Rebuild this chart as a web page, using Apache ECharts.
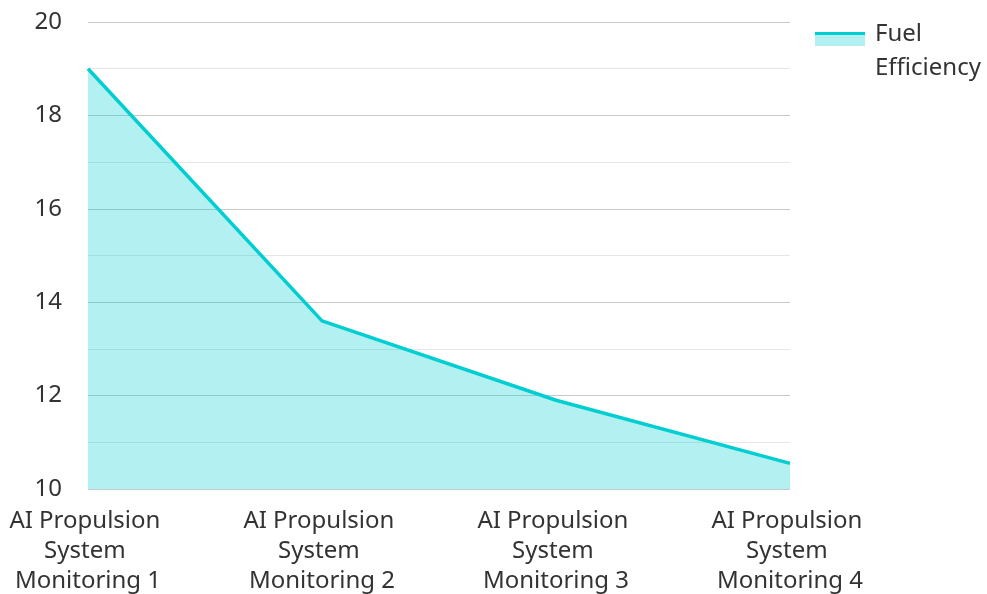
<!DOCTYPE html>
<html>
<head>
<meta charset="utf-8">
<script src="https://cdn.jsdelivr.net/npm/echarts@6/dist/echarts.min.js"></script>
<style>
  html, body { margin: 0; padding: 0; background: #fff; }
  #chart { width: 987px; height: 594px; }
</style>
</head>
<body>
<div id="chart"></div>
<script>
// data
var categories = ['AI Propulsion System Monitoring 1', 'AI Propulsion System Monitoring 2',
  'AI Propulsion System Monitoring 3', 'AI Propulsion System Monitoring 4'];
var fuelEfficiency = [19, 13.6, 11.9, 10.55];
var seriesName = 'Fuel Efficiency';
var yMin = 10, yMax = 20, yStep = 2;

var myChart = echarts.init(document.getElementById('chart'));
var font = '"Noto Sans", "Open Sans", sans-serif';
var lineColor = '#00CED1';
var areaColor = 'rgba(0,206,209,0.3)';
// legend swatch: teal stroke over light fill, sitting beside the first text line
var legendIcon = new echarts.graphic.LinearGradient(0, 0, 0, 1, [
  { offset: 0, color: 'rgba(0,0,0,0)' },
  { offset: 0.22, color: 'rgba(0,0,0,0)' },
  { offset: 0.22, color: lineColor },
  { offset: 0.265, color: lineColor },
  { offset: 0.265, color: areaColor },
  { offset: 0.43, color: areaColor },
  { offset: 0.43, color: 'rgba(0,0,0,0)' },
  { offset: 1, color: 'rgba(0,0,0,0)' }
]);
var option = {
  textStyle: { fontFamily: font },
  legend: {
    data: [{ name: seriesName, icon: 'rect', itemStyle: { color: legendIcon } }],
    right: -3,
    top: 12,
    itemWidth: 50,
    itemHeight: 68,
    textStyle: { fontSize: 24, color: '#333', fontFamily: font, width: 110, overflow: 'break', lineHeight: 34, padding: [0, 0, 0, 5] }
  },
  grid: { left: 88, right: 197, top: 22, bottom: 105, outerBoundsMode: 'none', containLabel: false },
  xAxis: {
    type: 'category',
    data: categories,
    boundaryGap: false,
    axisLine: { show: false },
    axisTick: { show: false },
    axisLabel: {
      fontSize: 24, color: '#333', fontFamily: font,
      width: 170, overflow: 'break', lineHeight: 30, margin: 17, interval: 0
    }
  },
  yAxis: {
    type: 'value',
    min: yMin,
    max: yMax,
    interval: yStep,
    axisLabel: { fontSize: 24, color: '#333', fontFamily: font, margin: 26 },
    splitLine: { lineStyle: { color: '#c8c8c8' } },
    minorTick: { show: false, splitNumber: 2 },
    minorSplitLine: { show: true, lineStyle: { color: '#e6e6e6' } }
  },
  series: [{
    name: seriesName,
    type: 'line',
    data: fuelEfficiency,
    showSymbol: false,
    symbol: 'none',
    lineStyle: { color: lineColor, width: 3.5 },
    itemStyle: { color: lineColor },
    areaStyle: { color: areaColor, opacity: 1 }
  }]
};
myChart.setOption(option);
</script>
</body>
</html>
